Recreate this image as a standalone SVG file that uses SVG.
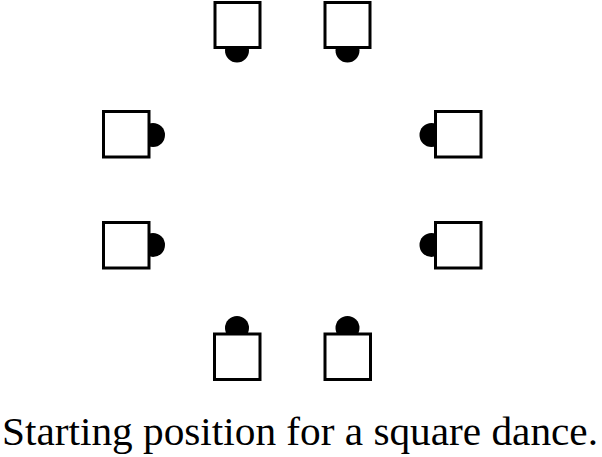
<svg xmlns="http://www.w3.org/2000/svg" width="602" height="457" viewBox="0 0 602 457">
<style>
.box{fill:#fff;stroke:#000;stroke-width:3}
.head{fill:#000}
</style>
<rect width="602" height="457" fill="#fff"/>
<g id="dancer-top-left"><circle class="head" cx="237" cy="50.5" r="12"/><rect class="box" x="215" y="2.5" width="45" height="45"/></g>
<g id="dancer-top-right"><circle class="head" cx="347.5" cy="50.5" r="12"/><rect class="box" x="325" y="2.5" width="45" height="45"/></g>
<g id="dancer-left-upper"><circle class="head" cx="153" cy="135" r="12"/><rect class="box" x="103.5" y="111.5" width="45.5" height="45.5"/></g>
<g id="dancer-left-lower"><circle class="head" cx="153" cy="245" r="12"/><rect class="box" x="103.5" y="222.5" width="45.5" height="45.5"/></g>
<g id="dancer-right-upper"><circle class="head" cx="431.5" cy="135" r="12"/><rect class="box" x="435.5" y="111.5" width="45.5" height="45.5"/></g>
<g id="dancer-right-lower"><circle class="head" cx="431.5" cy="245" r="12"/><rect class="box" x="435.5" y="222.5" width="45.5" height="45.5"/></g>
<g id="dancer-bottom-left"><circle class="head" cx="237" cy="328" r="12"/><rect class="box" x="214.5" y="334" width="45.5" height="45.5"/></g>
<g id="dancer-bottom-right"><circle class="head" cx="347.5" cy="328" r="12"/><rect class="box" x="325" y="334" width="45.5" height="45.5"/></g>
<g id="connectors"/>
<text x="2" y="445" style="font-family:'Liberation Serif','Times New Roman',Times,serif;font-size:40px" fill="#000" textLength="596" lengthAdjust="spacingAndGlyphs">Starting position for a square dance.</text>
</svg>
